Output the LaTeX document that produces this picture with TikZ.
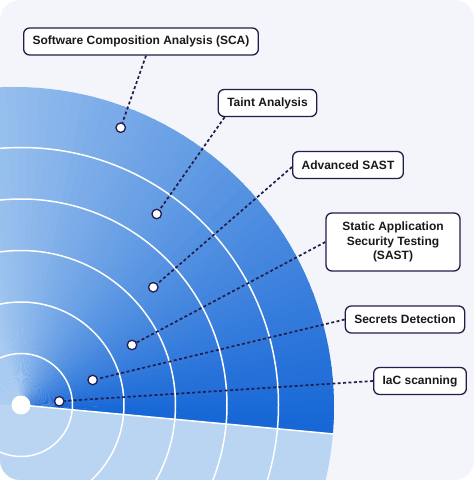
\documentclass[tikz,border=0pt]{standalone}
\usepackage{fontspec}
\setmainfont{Liberation Sans}
\definecolor{panelbg}{HTML}{F3F5FA}
\definecolor{deepblue}{HTML}{1767D6}
\definecolor{paleblue}{HTML}{A6CAF0}
\definecolor{lowblue}{HTML}{B9D5F2}
\definecolor{navy}{HTML}{221D4C}
\tikzset{
  tagbox/.style={draw=navy, line width=1.3pt, fill=white, rounded corners=6pt,
                 font=\fontsize{12}{14.5}\selectfont\bfseries, text=black!90,
                 inner xsep=9pt, minimum height=27pt, align=center},
  probe/.style={circle, draw=navy, line width=1.3pt, fill=white, inner sep=0pt, minimum size=9.5pt},
  link/.style={draw=navy, line width=1.7pt, dash pattern=on 3pt off 2.4pt},
  ringline/.style={white, line width=1.5pt}
}
\begin{document}
\begin{tikzpicture}[x=1pt, y=1pt]
    \useasboundingbox (0,0) rectangle (474,480);
    \fill[white] (0,0) rectangle (474,480);
    \fill[panelbg, rounded corners=20pt] (0,0) rectangle (474,480);
    \coordinate (C) at (21,75);

    % radar sectors
    \begin{scope}
        \clip[rounded corners=20pt] (0,0) rectangle (474,480);
        \clip (14,73) circle (320);
        \foreach \i in {0,...,92}{
            \pgfmathsetmacro{\a}{-5.3+2*\i}
            \pgfmathtruncatemacro{\t}{min(100,(\a+5.3)/1.1)}
            \fill[paleblue!\t!deepblue] (C) -- ++(\a:340) arc[start angle=\a, delta angle=2.3, radius=340] -- cycle;
        }
        \fill[lowblue] (C) -- ++(180:340) arc[start angle=180, end angle=354.7, radius=340] -- cycle;
        \foreach \r in {51.5,103,154.5,206,257.5}
            \draw[ringline] (C) circle (\r);
        \draw[ringline] (C) -- ++(-5.3:340);
    \end{scope}
    \fill[white] (C) circle (9.5);

    % labels
    \node[tagbox] (sca) at (141,438.5) {Software Composition Analysis (SCA)};
    \node[tagbox] (taint) at (267.5,377) {Taint Analysis};
    \node[tagbox] (adv) at (348,315) {Advanced SAST};
    \node[tagbox, minimum width=134pt, minimum height=58pt] (sast) at (393,238)
        {Static Application\\Security Testing\\(SAST)};
    \node[tagbox] (secrets) at (405,160.5) {Secrets Detection};
    \node[tagbox] (iac) at (420,99) {IaC scanning};

    % probes
    \node[probe] (psca) at (120.7,352.3) {};
    \node[probe] (ptaint) at (156.7,266) {};
    \node[probe] (padv) at (153.3,192.7) {};
    \node[probe] (psast) at (132,135) {};
    \node[probe] (psecrets) at (92.7,100) {};
    \node[probe] (piac) at (59.3,78.7) {};

    \draw[link] ([xshift=5pt]sca.south) -- (psca);
    \draw[link] ([xshift=7pt]taint.south west) -- (ptaint);
    \draw[link] ([yshift=-2pt]adv.west) -- (padv);
    \draw[link] (sast.west) -- (psast);
    \draw[link] (secrets.west) -- (psecrets);
    \draw[link] (iac.west) -- (piac);
\end{tikzpicture}
\end{document}
